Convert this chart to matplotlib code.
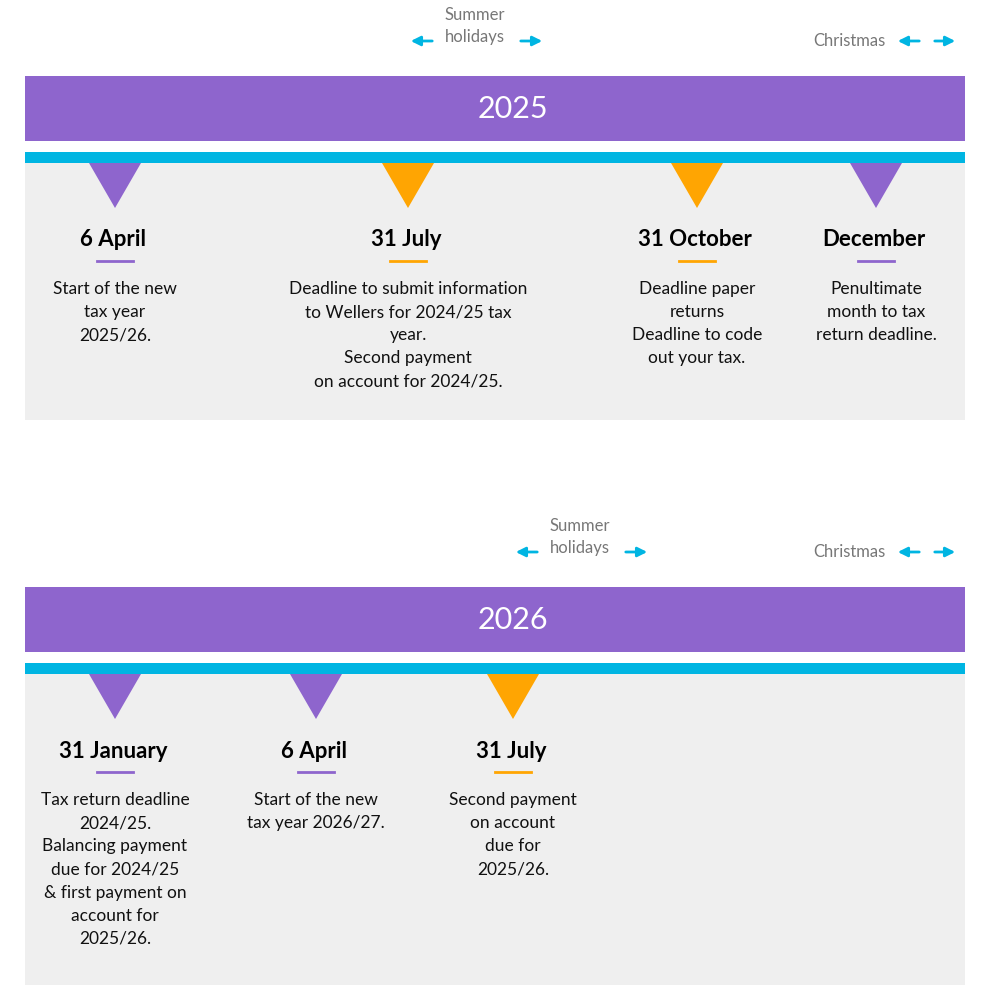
import matplotlib
matplotlib.use('Agg')
from matplotlib import pyplot as plt
from matplotlib.patches import Rectangle, Polygon

PURPLE = '#8e65cd'
ORANGE = '#ffa502'
CYAN = '#00b5e2'
GREY = '#efefef'

years = ['2025', '2026']
titles_2025 = ['6 April', '31 July', '31 October', 'December']
descs_2025 = ['Start of the new\ntax year\n2025/26.',
              'Deadline to submit information\nto Wellers for 2024/25 tax\nyear.\nSecond payment\non account for 2024/25.',
              'Deadline paper\nreturns\nDeadline to code\nout your tax.',
              'Penultimate\nmonth to tax\nreturn deadline.']
colors_2025 = [PURPLE, ORANGE, ORANGE, PURPLE]
xs_2025 = [115, 408, 697, 876]

titles_2026 = ['31 January', '6 April', '31 July']
descs_2026 = ['Tax return deadline\n2024/25.\nBalancing payment\ndue for 2024/25\n& first payment on\naccount for\n2025/26.',
              'Start of the new\ntax year 2026/27.',
              'Second payment\non account\ndue for\n2025/26.']
colors_2026 = [PURPLE, PURPLE, ORANGE]
xs_2026 = [115, 316, 513]

fig = plt.figure(figsize=(10, 10), dpi=100)
ax = fig.add_axes([0, 0, 1, 1])
ax.set_xlim(0, 1000)
ax.set_ylim(1000, 0)
ax.axis('off')

FONT = 'Lato'


def arrow(x0, x1, y):
    ax.annotate('', xy=(x1, y), xytext=(x0, y),
                arrowprops=dict(arrowstyle='-|>', color=CYAN, lw=2, mutation_scale=14))


def section(top, year, titles, descs, colors, xs, summer_x, summer_arrows):
    # holidays header
    ax.text(summer_x, top - 50, 'Summer\nholidays', ha='center', va='center',
            fontsize=12, color='#777777', family=FONT, linespacing=1.5)
    arrow(summer_arrows[0] + 27, summer_arrows[0], top - 35)
    arrow(summer_arrows[1], summer_arrows[1] + 27, top - 35)
    ax.text(849, top - 35, 'Christmas', ha='center', va='center',
            fontsize=12, color='#777777', family=FONT)
    arrow(922, 895, top - 35)
    arrow(932, 958, top - 35)

    ax.add_patch(Rectangle((25, top), 940, 65, color=PURPLE, lw=0))
    ax.text(513, top + 33, year, ha='center', va='center', fontsize=22,
            color='white', family=FONT)
    ax.add_patch(Rectangle((25, top + 76), 940, 11, color=CYAN, lw=0))
    ax.add_patch(Rectangle((25, top + 87), 940, 257 if year == '2025' else 311,
                           color=GREY, lw=0))
    for x, t, d, c in zip(xs, titles, descs, colors):
        ax.add_patch(Polygon([(x - 26, top + 87), (x + 26, top + 87), (x, top + 132)],
                             color=c, lw=0))
        ax.text(x - 2, top + 164, t, ha='center', va='center', fontsize=16,
                fontweight='bold', color='black', family=FONT)
        ax.plot([x - 18, x + 18], [top + 185, top + 185], color=c, lw=2)
        ax.text(x, top + 205, d, ha='center', va='top', fontsize=12.5,
                color='#111111', family=FONT, linespacing=1.55)


section(76, years[0], titles_2025, descs_2025, colors_2025, xs_2025, 475, (408, 518))
section(587, years[1], titles_2026, descs_2026, colors_2026, xs_2026, 580, (513, 623))

fig.savefig('out.png', dpi=100, facecolor='white')
